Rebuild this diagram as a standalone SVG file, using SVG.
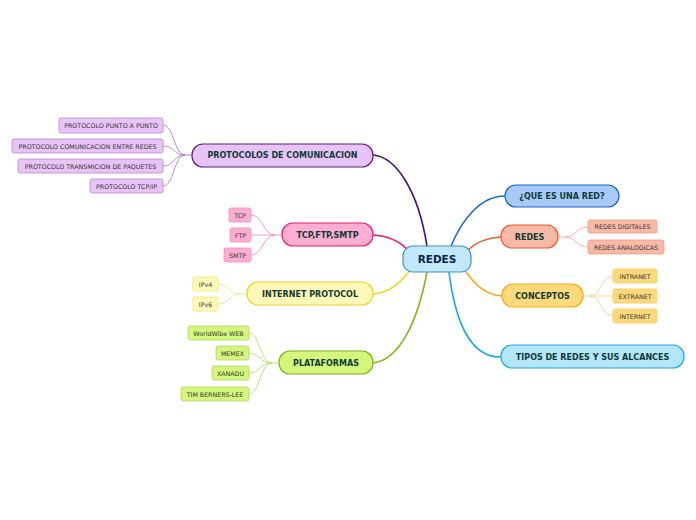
<svg xmlns="http://www.w3.org/2000/svg" width="696" height="520" viewBox="0 0 696 520">
<style>
text{font-family:"DejaVu Sans","Liberation Sans",sans-serif;text-anchor:middle;dominant-baseline:central}
.m{font-weight:bold;font-size:8px;fill:#0d3b35}
.l{font-size:6.3px;fill:#333}
.c{font-weight:bold;font-size:10.5px;fill:#0b2545}
.mc{fill:none;stroke-width:1.6}
.lc{fill:none;stroke-width:0.9}
</style>
<rect width="696" height="520" fill="#fff"/>
<g id="connectors">
<path class="mc" stroke="#4b1070" d="M373,155 C396,157 418,190 427,246"/>
<path class="mc" stroke="#ef1f74" d="M373,235 C390,236 400,242 407,249"/>
<path class="mc" stroke="#f2d21a" d="M373,294 C390,293 400,282 409,272"/>
<path class="mc" stroke="#84b818" d="M373,363 C400,360 418,320 427,272"/>
<path class="mc" stroke="#1a66d6" d="M505,196 C480,196 462,220 451,246"/>
<path class="mc" stroke="#f2582a" d="M501,237 C485,238 475,243 468,250"/>
<path class="mc" stroke="#f7aa10" d="M502,296 C485,295 475,284 466,272"/>
<path class="mc" stroke="#1aa8e8" d="M501,357 C470,358 455,320 449,272"/>
<g stroke="#a77fbf" class="lc">
<path d="M192,155 L185,155 C174,155 174,125 163,125"/>
<path d="M185,155 C174,155 174,146 163,146"/>
<path d="M185,155 C174,155 174,166 163,166"/>
<path d="M185,155 C174,155 174,186 163,186"/>
</g>
<g stroke="#f78cb8" class="lc">
<path d="M282,235 L275,235 C263,235 263,215 251,215"/>
<path d="M275,235 L251,235"/>
<path d="M275,235 C263,235 263,255 251,255"/>
</g>
<g stroke="#f5e27a" class="lc">
<path d="M247,294 L240,294 C229,294 229,284 218,284"/>
<path d="M240,294 C229,294 229,304 218,304"/>
</g>
<g stroke="#b8dc70" class="lc">
<path d="M279,363 L272,363 C260,363 260,333 249,333"/>
<path d="M272,363 C260,363 260,353 249,353"/>
<path d="M272,363 C260,363 260,373 249,373"/>
<path d="M272,363 C260,363 260,394 249,394"/>
</g>
<g stroke="#f9a88c" class="lc">
<path d="M558,237 L565,237 C576,237 576,227 588,227"/>
<path d="M565,237 C576,237 576,247 588,247"/>
</g>
<g stroke="#fbd27a" class="lc">
<path d="M583,296 L590,296 C601,296 601,276 613,276"/>
<path d="M590,296 L613,296"/>
<path d="M590,296 C601,296 601,316 613,316"/>
</g>
</g>
<g id="center">
<rect x="403" y="246" width="68" height="26" rx="10" fill="#c2e9fb" stroke="#3a8fcf" stroke-width="1.2"/>
<text class="c" x="437" y="259">REDES</text>
</g>
<g id="protocolos">
<rect x="192" y="144" width="181" height="23" rx="11" fill="#e8c3f8" stroke="#5e1a80" stroke-width="1.2"/>
<text class="m" x="282.5" y="155.5">PROTOCOLOS DE COMUNICACION</text>
</g>
<g id="p1"><rect x="59" y="118" width="104" height="15" rx="2" fill="#e8c3f8" stroke="#b48acb" stroke-width="0.8"/><text class="l" x="111" y="125.5">PROTOCOLO PUNTO A PUNTO</text></g>
<g id="p2"><rect x="12" y="139" width="151" height="14" rx="2" fill="#e8c3f8" stroke="#b48acb" stroke-width="0.8"/><text class="l" x="87.5" y="146">PROTOCOLO COMUNICACION ENTRE REDES</text></g>
<g id="p3"><rect x="18" y="159" width="145" height="14" rx="2" fill="#e8c3f8" stroke="#b48acb" stroke-width="0.8"/><text class="l" x="90.5" y="166">PROTOCOLO TRANSMICION DE PAQUETES</text></g>
<g id="p4"><rect x="90" y="179" width="73" height="14" rx="2" fill="#e8c3f8" stroke="#b48acb" stroke-width="0.8"/><text class="l" x="126.5" y="186">PROTOCOLO TCP/IP</text></g>
<g id="tcpftp">
<rect x="282" y="223" width="91" height="23" rx="11" fill="#ffadd2" stroke="#ec1d72" stroke-width="1.2"/>
<text class="m" x="327.5" y="235">TCP,FTP,SMTP</text>
</g>
<g id="t1"><rect x="229" y="208" width="22" height="14" rx="2" fill="#ffadd2" stroke="#f78cb8" stroke-width="0.8"/><text class="l" x="240" y="215">TCP</text></g>
<g id="t2"><rect x="230" y="228" width="21" height="14" rx="2" fill="#ffadd2" stroke="#f78cb8" stroke-width="0.8"/><text class="l" x="240.5" y="235">FTP</text></g>
<g id="t3"><rect x="224" y="248" width="27" height="14" rx="2" fill="#ffadd2" stroke="#f78cb8" stroke-width="0.8"/><text class="l" x="237.5" y="255">SMTP</text></g>
<g id="internetprotocol">
<rect x="247" y="282" width="126" height="23" rx="11" fill="#fff8b8" stroke="#f0d21e" stroke-width="1.2"/>
<text class="m" x="310" y="294">INTERNET PROTOCOL</text>
</g>
<g id="i1"><rect x="193" y="277" width="25" height="14" rx="2" fill="#fff8b8" stroke="#f5e27a" stroke-width="0.8"/><text class="l" x="205.5" y="284">IPv4</text></g>
<g id="i2"><rect x="193" y="297" width="25" height="14" rx="2" fill="#fff8b8" stroke="#f5e27a" stroke-width="0.8"/><text class="l" x="205.5" y="304">IPv6</text></g>
<g id="plataformas">
<rect x="279" y="351" width="94" height="23" rx="11" fill="#d5f67c" stroke="#7cb51a" stroke-width="1.2"/>
<text class="m" x="326" y="363">PLATAFORMAS</text>
</g>
<g id="w1"><rect x="188" y="326" width="61" height="14" rx="2" fill="#d5f67c" stroke="#b0d860" stroke-width="0.8"/><text class="l" x="218.5" y="333">WorldWibe WEB</text></g>
<g id="w2"><rect x="216" y="346" width="33" height="14" rx="2" fill="#d5f67c" stroke="#b0d860" stroke-width="0.8"/><text class="l" x="232.5" y="353">MEMEX</text></g>
<g id="w3"><rect x="212" y="366" width="37" height="14" rx="2" fill="#d5f67c" stroke="#b0d860" stroke-width="0.8"/><text class="l" x="230.5" y="373">XANADU</text></g>
<g id="w4"><rect x="181" y="387" width="68" height="14" rx="2" fill="#d5f67c" stroke="#b0d860" stroke-width="0.8"/><text class="l" x="215" y="394">TIM BERNERS-LEE</text></g>
<g id="quees">
<rect x="505" y="185" width="114" height="22" rx="11" fill="#a8caf9" stroke="#1a66d6" stroke-width="1.2"/>
<text class="m" x="562" y="196">¿QUE ES UNA RED?</text>
</g>
<g id="redes2">
<rect x="501" y="225" width="57" height="23" rx="11" fill="#f8baa6" stroke="#f2582a" stroke-width="1.2"/>
<text class="m" x="529.5" y="237">REDES</text>
</g>
<g id="r1"><rect x="588" y="220" width="69" height="13" rx="2" fill="#f8baa6" stroke="#f59a7c" stroke-width="0.8"/><text class="l" x="622.5" y="226.5">REDES DIGITALES</text></g>
<g id="r2"><rect x="588" y="240" width="76" height="14" rx="2" fill="#f8baa6" stroke="#f59a7c" stroke-width="0.8"/><text class="l" x="626" y="247">REDES ANALOGICAS</text></g>
<g id="conceptos">
<rect x="502" y="284" width="81" height="23" rx="11" fill="#fdd97c" stroke="#f7aa10" stroke-width="1.2"/>
<text class="m" x="542.5" y="296">CONCEPTOS</text>
</g>
<g id="c1"><rect x="613" y="269" width="44" height="14" rx="2" fill="#fdd97c" stroke="#fbcb5a" stroke-width="0.8"/><text class="l" x="635" y="276">INTRANET</text></g>
<g id="c2"><rect x="613" y="289" width="44" height="14" rx="2" fill="#fdd97c" stroke="#fbcb5a" stroke-width="0.8"/><text class="l" x="635" y="296">EXTRANET</text></g>
<g id="c3"><rect x="613" y="309" width="44" height="14" rx="2" fill="#fdd97c" stroke="#fbcb5a" stroke-width="0.8"/><text class="l" x="635" y="316">INTERNET</text></g>
<g id="tipos">
<rect x="501" y="345" width="183" height="23" rx="11" fill="#b5e5f9" stroke="#1aa8e8" stroke-width="1.2"/>
<text class="m" x="592.5" y="357">TIPOS DE REDES Y SUS ALCANCES</text>
</g>
</svg>
